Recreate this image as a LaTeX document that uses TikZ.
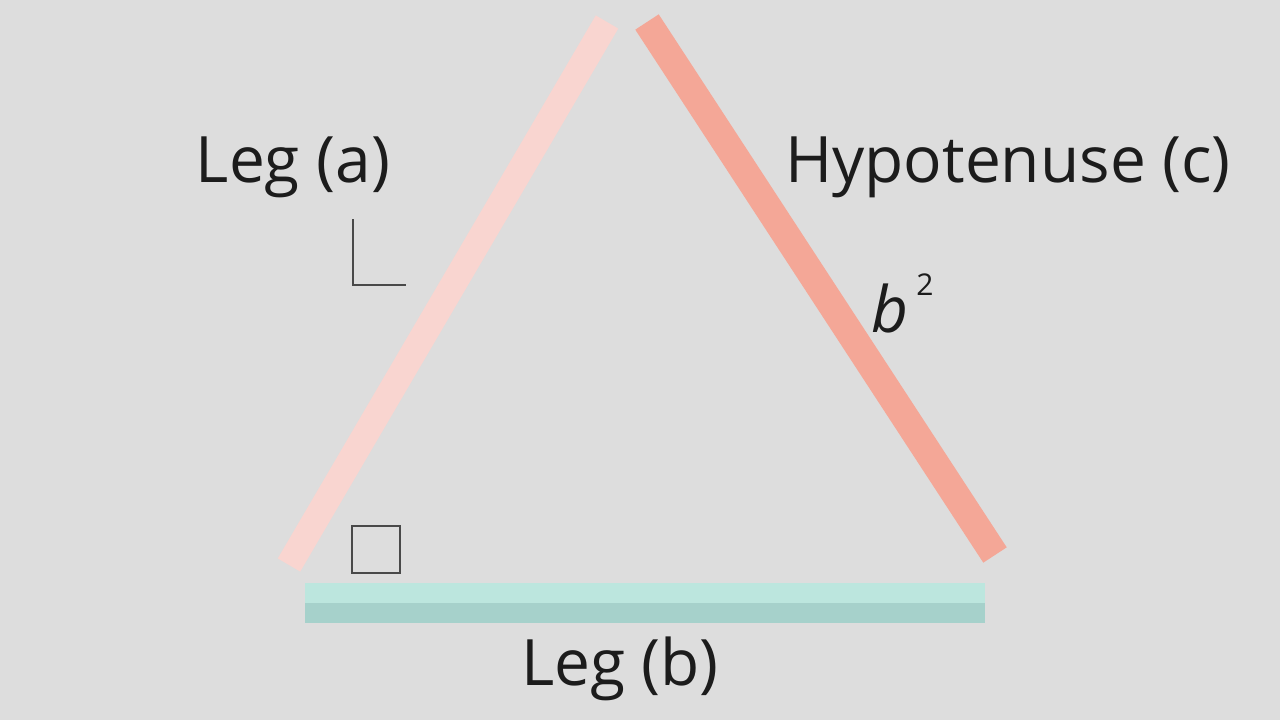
\documentclass[tikz,border=0pt]{standalone}
\usepackage{fontspec}
\setmainfont{Open Sans}
\definecolor{bgray}{HTML}{DDDDDD}
\definecolor{lega}{HTML}{F9D5D0}
\definecolor{hypc}{HTML}{F4A797}
\definecolor{legbtop}{HTML}{BCE6DE}
\definecolor{legbbot}{HTML}{A6D1CB}
\definecolor{ink}{HTML}{1C1C1C}
\newcommand{\biglabel}{\fontsize{64}{70}\selectfont}
\tikzset{
	side/.style={line width=26pt},
	lbl/.style={inner sep=0pt, anchor=base, text=ink, font=\biglabel}
}
\begin{document}
\begin{tikzpicture}[x=1pt, y=-1pt]
		\useasboundingbox[fill=bgray] (0, 0) rectangle (1280, 720);
		%sides
		\draw[side, lega]	(289, 565) -- (607, 22);
		\draw[side, hypc, line width=28pt]	(647, 22) -- (995, 555);
		\fill[legbtop]	(305, 583) rectangle (985, 603);
		\fill[legbbot]	(305, 603) rectangle (985, 623);
		%right angle marks
		\draw[ink!80, line width=1.6pt]	(352, 526) rectangle (400, 573);
		\draw[ink!80, line width=1.6pt]	(353, 219) -- (353, 285) -- (406, 285);
		%labels
		\node[lbl] (lbla) at (293, 182) {Leg (a)};
		\node[lbl] (lblc) at (1008, 182) {Hypotenuse (c)};
		\node[lbl] (lblb) at (620, 685) {Leg (b)};
		\node[lbl] (bsq) at (890, 332) {\itshape b};
		\node[lbl, font=\fontsize{30}{32}\selectfont] (sq) at (925, 295) {2};
		\end{tikzpicture}
\end{document}
